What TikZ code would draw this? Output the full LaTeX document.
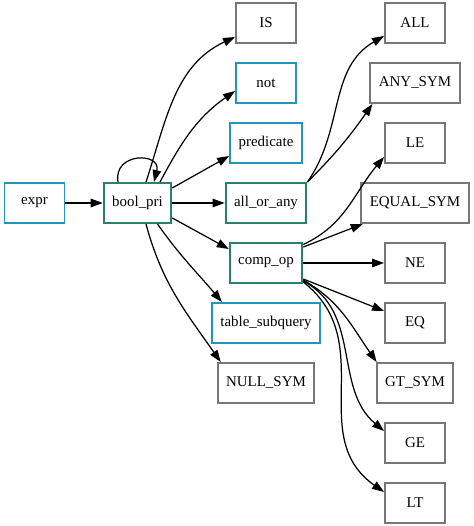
\documentclass[tikz,border=0pt]{standalone}
\usepackage{fontspec}
\setmainfont{Liberation Serif}
\usetikzlibrary{positioning,arrows.meta}
\definecolor{rulegreen}{HTML}{2B7F6B}
\definecolor{termblue}{HTML}{2594BA}
\definecolor{leafgray}{HTML}{777777}

\begin{document}
\begin{tikzpicture}[box/.style={rectangle,draw,line width=1.1pt,minimum width=1.2cm,minimum height=0.8cm,inner xsep=0.17cm,font=\fontsize{8.5}{10}\selectfont},
						green/.style={box,draw=rulegreen},
						blue/.style={box,draw=termblue},
						gray/.style={box,draw=leafgray},
						edge/.style={line width=0.7pt,-{Triangle[length=0.24cm,width=0.17cm]}},
						node distance=1.2cm,on grid]
		\useasboundingbox (-0.69,-6.46) rectangle (8.79,4.06);

		\node[blue]										(expr)		{expr};
		\node[green,right=2.06cm of expr]				(boolpri)	{bool\_pri};
		\node[green,right=2.57cm of boolpri]			(allorany)	{all\_or\_any};
		\node[blue,above=of allorany]					(predicate)	{predicate};
		\node[blue,above=of predicate]					(not)		{not};
		\node[gray,above=of not]						(is)		{IS};
		\node[green,below=of allorany]					(compop)	{comp\_op};
		\node[blue,below=of compop]						(tablesub)	{table\_subquery};
		\node[gray,below=of tablesub]					(nullsym)	{NULL\_SYM};
		\node[gray,right=2.98cm of allorany]			(equalsym)	{EQUAL\_SYM};
		\node[gray,above=of equalsym]					(le)		{LE};
		\node[gray,above=of le]							(anysym)	{ANY\_SYM};
		\node[gray,above=of anysym]						(all)		{ALL};
		\node[gray,below=of equalsym]					(ne)		{NE};
		\node[gray,below=of ne]							(eq)		{EQ};
		\node[gray,below=of eq]							(gtsym)		{GT\_SYM};
		\node[gray,below=of gtsym]						(ge)		{GE};
		\node[gray,below=of ge]							(lt)		{LT};

		\draw[edge] (expr) -- (boolpri);
		\draw[edge] ([xshift=-0.39cm]boolpri.north) .. controls +(-0.1,0.6) and +(0.15,0.6) .. ([xshift=0.33cm]boolpri.north);
		\draw[edge] ([xshift=0.17cm]boolpri.north) to[out=72,in=205] ([yshift=-0.28cm]is.west);
		\draw[edge] ([xshift=0.45cm]boolpri.north) to[out=62,in=215] ([yshift=-0.16cm]not.west);
		\draw[edge] ([yshift=0.3cm]boolpri.east) -- ([yshift=-0.26cm]predicate.west);
		\draw[edge] (boolpri) -- (allorany);
		\draw[edge] ([yshift=-0.3cm]boolpri.east) -- ([yshift=0.28cm]compop.west);
		\draw[edge] ([xshift=0.4cm]boolpri.south) to[out=-55,in=130] ([xshift=0.22cm]tablesub.north west);
		\draw[edge] ([xshift=0.17cm]boolpri.south) to[out=-75,in=125] ([xshift=0.08cm]nullsym.north west);

		\draw[edge] (allorany.north east) to[out=55,in=210] ([yshift=-0.26cm]all.west);
		\draw[edge] (allorany.north east) to[out=45,in=235] ([xshift=0.06cm]anysym.south west);

		\draw[edge] ([yshift=-0.05cm]compop.north east) to[out=25,in=230] ([yshift=-0.28cm]le.west);
		\draw[edge] ([yshift=-0.1cm]compop.north east) -- ([xshift=0.05cm]equalsym.south west);
		\draw[edge] (compop) -- (ne);
		\draw[edge] ([yshift=-0.32cm]compop.east) -- ([yshift=0.24cm]eq.west);
		\draw[edge] ([yshift=-0.34cm]compop.east) to[out=-30,in=125] ([xshift=0.02cm]gtsym.north west);
		\draw[edge] ([yshift=-0.36cm]compop.east) to[out=-28,in=140] ([yshift=0.24cm]ge.west);
		\draw[edge] ([yshift=-0.38cm]compop.east) to[out=-38,in=145,looseness=1.1] ([yshift=0.22cm]lt.west);
	\end{tikzpicture}
\end{document}
